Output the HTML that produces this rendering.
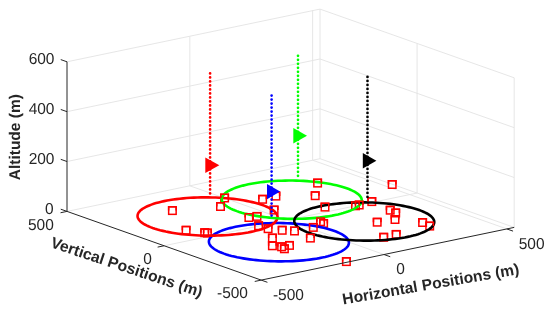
<!DOCTYPE html>
<html><head><meta charset="utf-8"><title>UAV positions 3D plot</title>
<style>html,body{margin:0;padding:0;background:#fff;width:550px;height:314px;overflow:hidden}svg{display:block}text{text-rendering:geometricPrecision}</style>
</head><body>
<svg width="550" height="314" viewBox="0 0 550 314" font-family="'Liberation Sans', Arial, sans-serif" fill="#262626">
<line x1="67" y1="161.53" x2="320" y2="108.83" stroke="#e3e3e3" stroke-width="0.9"/>
<line x1="67" y1="111.67" x2="320" y2="58.97" stroke="#e3e3e3" stroke-width="0.9"/>
<line x1="67" y1="61.8" x2="320" y2="9.1" stroke="#e3e3e3" stroke-width="0.9"/>
<line x1="189.82" y1="185.82" x2="189.82" y2="36.22" stroke="#e3e3e3" stroke-width="0.9"/>
<line x1="312.63" y1="160.23" x2="312.63" y2="10.63" stroke="#e3e3e3" stroke-width="0.9"/>
<line x1="320" y1="158.7" x2="320" y2="9.1" stroke="#e3e3e3" stroke-width="0.9"/>
<line x1="320" y1="108.83" x2="514.2" y2="177.53" stroke="#e3e3e3" stroke-width="0.9"/>
<line x1="320" y1="58.97" x2="514.2" y2="127.67" stroke="#e3e3e3" stroke-width="0.9"/>
<line x1="320" y1="9.1" x2="514.2" y2="77.8" stroke="#e3e3e3" stroke-width="0.9"/>
<line x1="514.2" y1="227.4" x2="514.2" y2="77.8" stroke="#e3e3e3" stroke-width="0.9"/>
<line x1="417.1" y1="193.05" x2="417.1" y2="43.45" stroke="#e3e3e3" stroke-width="0.9"/>
<line x1="384.02" y1="254.52" x2="189.82" y2="185.82" stroke="#e3e3e3" stroke-width="0.9"/>
<line x1="506.83" y1="228.93" x2="312.63" y2="160.23" stroke="#e3e3e3" stroke-width="0.9"/>
<line x1="164.1" y1="245.75" x2="417.1" y2="193.05" stroke="#e3e3e3" stroke-width="0.9"/>
<line x1="67" y1="211.4" x2="320" y2="158.7" stroke="#e3e3e3" stroke-width="0.9"/>
<line x1="320" y1="158.7" x2="514.2" y2="227.4" stroke="#e3e3e3" stroke-width="0.9"/>
<g fill="none" stroke="#ff0000" stroke-width="1.5">
<rect x="168.65" y="206.85" width="7.5" height="7.5"/>
<rect x="182.35" y="226.55" width="7.5" height="7.5"/>
<rect x="200.95" y="228.95" width="7.5" height="7.5"/>
<rect x="203.65" y="229.35" width="7.5" height="7.5"/>
<rect x="216.75" y="202.75" width="7.5" height="7.5"/>
<rect x="220.85" y="194.25" width="7.5" height="7.5"/>
<rect x="245.15" y="213.75" width="7.5" height="7.5"/>
<rect x="253.25" y="212.65" width="7.5" height="7.5"/>
<rect x="254.85" y="222.05" width="7.5" height="7.5"/>
<rect x="258.85" y="195.55" width="7.5" height="7.5"/>
<rect x="272.15" y="192.35" width="7.5" height="7.5"/>
<rect x="270.35" y="206.35" width="7.5" height="7.5"/>
<rect x="264.35" y="224.95" width="7.5" height="7.5"/>
<rect x="278.45" y="226.55" width="7.5" height="7.5"/>
<rect x="290.75" y="227.25" width="7.5" height="7.5"/>
<rect x="268.65" y="234.35" width="7.5" height="7.5"/>
<rect x="268.65" y="242.05" width="7.5" height="7.5"/>
<rect x="277.85" y="243.05" width="7.5" height="7.5"/>
<rect x="280.65" y="245.05" width="7.5" height="7.5"/>
<rect x="285.75" y="241.65" width="7.5" height="7.5"/>
<rect x="313.85" y="179.35" width="7.5" height="7.5"/>
<rect x="311.45" y="191.95" width="7.5" height="7.5"/>
<rect x="321.25" y="203.35" width="7.5" height="7.5"/>
<rect x="316.85" y="217.95" width="7.5" height="7.5"/>
<rect x="319.85" y="219.65" width="7.5" height="7.5"/>
<rect x="309.55" y="223.65" width="7.5" height="7.5"/>
<rect x="306.65" y="234.35" width="7.5" height="7.5"/>
<rect x="342.65" y="257.85" width="7.5" height="7.5"/>
<rect x="388.45" y="180.75" width="7.5" height="7.5"/>
<rect x="368.05" y="197.85" width="7.5" height="7.5"/>
<rect x="351.75" y="202.05" width="7.5" height="7.5"/>
<rect x="355.45" y="201.25" width="7.5" height="7.5"/>
<rect x="386.45" y="206.45" width="7.5" height="7.5"/>
<rect x="391.95" y="209.25" width="7.5" height="7.5"/>
<rect x="391.25" y="215.75" width="7.5" height="7.5"/>
<rect x="373.45" y="218.45" width="7.5" height="7.5"/>
<rect x="418.85" y="218.75" width="7.5" height="7.5"/>
<rect x="425.95" y="222.35" width="7.5" height="7.5"/>
<rect x="379.95" y="233.55" width="7.5" height="7.5"/>
<rect x="392.45" y="230.65" width="7.5" height="7.5"/>
</g>
<path d="M333.82,230.76 L331.48,229.97 L328.98,229.22 L326.35,228.5 L323.59,227.82 L320.71,227.17 L317.72,226.57 L314.61,226.01 L311.41,225.5 L308.12,225.03 L304.75,224.61 L301.31,224.24 L297.81,223.92 L294.26,223.64 L290.66,223.42 L287.03,223.25 L283.38,223.13 L279.72,223.06 L276.05,223.05 L272.4,223.09 L268.76,223.18 L265.14,223.32 L261.57,223.51 L258.04,223.76 L254.57,224.06 L251.17,224.4 L247.84,224.8 L244.6,225.24 L241.46,225.73 L238.41,226.26 L235.48,226.84 L232.66,227.46 L229.97,228.12 L227.42,228.82 L225.01,229.55 L222.74,230.32 L220.63,231.13 L218.68,231.96 L216.89,232.82 L215.28,233.71 L213.83,234.62 L212.57,235.55 L211.49,236.5 L210.59,237.46 L209.88,238.44 L209.36,239.43 L209.03,240.42 L208.89,241.42 L208.94,242.43 L209.19,243.43 L209.62,244.43 L210.25,245.42 L211.06,246.4 L212.06,247.38 L213.25,248.33 L214.61,249.27 L216.15,250.2 L217.86,251.1 L219.74,251.97 L221.78,252.82 L223.98,253.64 L226.32,254.43 L228.82,255.18 L231.45,255.9 L234.21,256.58 L237.09,257.23 L240.08,257.83 L243.19,258.39 L246.39,258.9 L249.68,259.37 L253.05,259.79 L256.49,260.16 L259.99,260.48 L263.54,260.76 L267.14,260.98 L270.77,261.15 L274.42,261.27 L278.08,261.34 L281.75,261.35 L285.4,261.31 L289.04,261.22 L292.66,261.08 L296.23,260.89 L299.76,260.64 L303.23,260.34 L306.63,260 L309.96,259.6 L313.2,259.16 L316.34,258.67 L319.39,258.14 L322.32,257.56 L325.14,256.94 L327.83,256.28 L330.38,255.58 L332.79,254.85 L335.06,254.08 L337.17,253.27 L339.12,252.44 L340.91,251.58 L342.52,250.69 L343.97,249.78 L345.23,248.85 L346.31,247.9 L347.21,246.94 L347.92,245.96 L348.44,244.97 L348.77,243.98 L348.91,242.98 L348.86,241.97 L348.61,240.97 L348.18,239.97 L347.55,238.98 L346.74,238 L345.74,237.02 L344.55,236.07 L343.19,235.13 L341.65,234.2 L339.94,233.3 L338.06,232.43 L336.02,231.58 Z" fill="none" stroke="#0000ff" stroke-width="2.6"/>
<path d="M262.47,205.06 L260.13,204.27 L257.63,203.52 L255,202.8 L252.24,202.12 L249.36,201.47 L246.37,200.87 L243.26,200.31 L240.06,199.8 L236.77,199.33 L233.4,198.91 L229.96,198.54 L226.46,198.22 L222.91,197.94 L219.31,197.72 L215.68,197.55 L212.03,197.43 L208.37,197.36 L204.7,197.35 L201.05,197.39 L197.41,197.48 L193.79,197.62 L190.22,197.81 L186.69,198.06 L183.22,198.36 L179.82,198.7 L176.49,199.1 L173.25,199.54 L170.11,200.03 L167.06,200.56 L164.13,201.14 L161.31,201.76 L158.62,202.42 L156.07,203.12 L153.66,203.85 L151.39,204.62 L149.28,205.43 L147.33,206.26 L145.54,207.12 L143.93,208.01 L142.48,208.92 L141.22,209.85 L140.14,210.8 L139.24,211.76 L138.53,212.74 L138.01,213.73 L137.68,214.72 L137.54,215.72 L137.59,216.73 L137.84,217.73 L138.27,218.73 L138.9,219.72 L139.71,220.7 L140.71,221.68 L141.9,222.63 L143.26,223.57 L144.8,224.5 L146.51,225.4 L148.39,226.27 L150.43,227.12 L152.63,227.94 L154.97,228.73 L157.47,229.48 L160.1,230.2 L162.86,230.88 L165.74,231.53 L168.73,232.13 L171.84,232.69 L175.04,233.2 L178.33,233.67 L181.7,234.09 L185.14,234.46 L188.64,234.78 L192.19,235.06 L195.79,235.28 L199.42,235.45 L203.07,235.57 L206.73,235.64 L210.4,235.65 L214.05,235.61 L217.69,235.52 L221.31,235.38 L224.88,235.19 L228.41,234.94 L231.88,234.64 L235.28,234.3 L238.61,233.9 L241.85,233.46 L244.99,232.97 L248.04,232.44 L250.97,231.86 L253.79,231.24 L256.48,230.58 L259.03,229.88 L261.44,229.15 L263.71,228.38 L265.82,227.57 L267.77,226.74 L269.56,225.88 L271.17,224.99 L272.62,224.08 L273.88,223.15 L274.96,222.2 L275.86,221.24 L276.57,220.26 L277.09,219.27 L277.42,218.28 L277.56,217.28 L277.51,216.27 L277.26,215.27 L276.83,214.27 L276.2,213.28 L275.39,212.3 L274.39,211.32 L273.2,210.37 L271.84,209.43 L270.3,208.5 L268.59,207.6 L266.71,206.73 L264.67,205.88 Z" fill="none" stroke="#ff0000" stroke-width="2.6"/>
<path d="M346.67,188.26 L344.33,187.47 L341.83,186.72 L339.2,186 L336.44,185.32 L333.56,184.67 L330.57,184.07 L327.46,183.51 L324.26,183 L320.97,182.53 L317.6,182.11 L314.16,181.74 L310.66,181.42 L307.11,181.14 L303.51,180.92 L299.88,180.75 L296.23,180.63 L292.57,180.56 L288.9,180.55 L285.25,180.59 L281.61,180.68 L277.99,180.82 L274.42,181.01 L270.89,181.26 L267.42,181.56 L264.02,181.9 L260.69,182.3 L257.45,182.74 L254.31,183.23 L251.26,183.76 L248.33,184.34 L245.51,184.96 L242.82,185.62 L240.27,186.32 L237.86,187.05 L235.59,187.82 L233.48,188.63 L231.53,189.46 L229.74,190.32 L228.13,191.21 L226.68,192.12 L225.42,193.05 L224.34,194 L223.44,194.96 L222.73,195.94 L222.21,196.93 L221.88,197.92 L221.74,198.92 L221.79,199.93 L222.04,200.93 L222.47,201.93 L223.1,202.92 L223.91,203.9 L224.91,204.88 L226.1,205.83 L227.46,206.77 L229,207.7 L230.71,208.6 L232.59,209.47 L234.63,210.32 L236.83,211.14 L239.17,211.93 L241.67,212.68 L244.3,213.4 L247.06,214.08 L249.94,214.73 L252.93,215.33 L256.04,215.89 L259.24,216.4 L262.53,216.87 L265.9,217.29 L269.34,217.66 L272.84,217.98 L276.39,218.26 L279.99,218.48 L283.62,218.65 L287.27,218.77 L290.93,218.84 L294.6,218.85 L298.25,218.81 L301.89,218.72 L305.51,218.58 L309.08,218.39 L312.61,218.14 L316.08,217.84 L319.48,217.5 L322.81,217.1 L326.05,216.66 L329.19,216.17 L332.24,215.64 L335.17,215.06 L337.99,214.44 L340.68,213.78 L343.23,213.08 L345.64,212.35 L347.91,211.58 L350.02,210.77 L351.97,209.94 L353.76,209.08 L355.37,208.19 L356.82,207.28 L358.08,206.35 L359.16,205.4 L360.06,204.44 L360.77,203.46 L361.29,202.47 L361.62,201.48 L361.76,200.48 L361.71,199.47 L361.46,198.47 L361.03,197.47 L360.4,196.48 L359.59,195.5 L358.59,194.52 L357.4,193.57 L356.04,192.63 L354.5,191.7 L352.79,190.8 L350.91,189.93 L348.87,189.08 Z" fill="none" stroke="#00ff00" stroke-width="2.6"/>
<path d="M419.17,210.06 L416.83,209.27 L414.33,208.52 L411.7,207.8 L408.94,207.12 L406.06,206.47 L403.07,205.87 L399.96,205.31 L396.76,204.8 L393.47,204.33 L390.1,203.91 L386.66,203.54 L383.16,203.22 L379.61,202.94 L376.01,202.72 L372.38,202.55 L368.73,202.43 L365.07,202.36 L361.4,202.35 L357.75,202.39 L354.11,202.48 L350.49,202.62 L346.92,202.81 L343.39,203.06 L339.92,203.36 L336.52,203.7 L333.19,204.1 L329.95,204.54 L326.81,205.03 L323.76,205.56 L320.83,206.14 L318.01,206.76 L315.32,207.42 L312.77,208.12 L310.36,208.85 L308.09,209.62 L305.98,210.43 L304.03,211.26 L302.24,212.12 L300.63,213.01 L299.18,213.92 L297.92,214.85 L296.84,215.8 L295.94,216.76 L295.23,217.74 L294.71,218.73 L294.38,219.72 L294.24,220.72 L294.29,221.73 L294.54,222.73 L294.97,223.73 L295.6,224.72 L296.41,225.7 L297.41,226.68 L298.6,227.63 L299.96,228.57 L301.5,229.5 L303.21,230.4 L305.09,231.27 L307.13,232.12 L309.33,232.94 L311.67,233.73 L314.17,234.48 L316.8,235.2 L319.56,235.88 L322.44,236.53 L325.43,237.13 L328.54,237.69 L331.74,238.2 L335.03,238.67 L338.4,239.09 L341.84,239.46 L345.34,239.78 L348.89,240.06 L352.49,240.28 L356.12,240.45 L359.77,240.57 L363.43,240.64 L367.1,240.65 L370.75,240.61 L374.39,240.52 L378.01,240.38 L381.58,240.19 L385.11,239.94 L388.58,239.64 L391.98,239.3 L395.31,238.9 L398.55,238.46 L401.69,237.97 L404.74,237.44 L407.67,236.86 L410.49,236.24 L413.18,235.58 L415.73,234.88 L418.14,234.15 L420.41,233.38 L422.52,232.57 L424.47,231.74 L426.26,230.88 L427.87,229.99 L429.32,229.08 L430.58,228.15 L431.66,227.2 L432.56,226.24 L433.27,225.26 L433.79,224.27 L434.12,223.28 L434.26,222.28 L434.21,221.27 L433.96,220.27 L433.53,219.27 L432.9,218.28 L432.09,217.3 L431.09,216.32 L429.9,215.37 L428.54,214.43 L427,213.5 L425.29,212.6 L423.41,211.73 L421.37,210.88 Z" fill="none" stroke="#000000" stroke-width="2.6"/>
<g fill="none" stroke="#ff0000" stroke-width="1.5">
<path d="M168.65 210.6V206.85H176.15V210.6"/>
<path d="M182.35 230.3V226.55H189.85V230.3"/>
<path d="M200.95 232.7V228.95H208.45V232.7"/>
<path d="M203.65 233.1V229.35H211.15V233.1"/>
<path d="M216.75 206.5V202.75H224.25V206.5"/>
<path d="M220.85 198V194.25H228.35V198"/>
<path d="M245.15 217.5V213.75H252.65V217.5"/>
<path d="M253.25 216.4V212.65H260.75V216.4"/>
<path d="M254.85 225.8V222.05H262.35V225.8"/>
<path d="M258.85 199.3V195.55H266.35V199.3"/>
<path d="M272.15 196.1V192.35H279.65V196.1"/>
<path d="M270.35 210.1V206.35H277.85V210.1"/>
<path d="M264.35 228.7V224.95H271.85V228.7"/>
<path d="M278.45 230.3V226.55H285.95V230.3"/>
<path d="M290.75 231V227.25H298.25V231"/>
<path d="M268.65 238.1V234.35H276.15V238.1"/>
<path d="M268.65 245.8V242.05H276.15V245.8"/>
<path d="M277.85 246.8V243.05H285.35V246.8"/>
<path d="M280.65 248.8V245.05H288.15V248.8"/>
<path d="M285.75 245.4V241.65H293.25V245.4"/>
<path d="M313.85 183.1V179.35H321.35V183.1"/>
<path d="M311.45 195.7V191.95H318.95V195.7"/>
<path d="M321.25 207.1V203.35H328.75V207.1"/>
<path d="M316.85 221.7V217.95H324.35V221.7"/>
<path d="M319.85 223.4V219.65H327.35V223.4"/>
<path d="M309.55 227.4V223.65H317.05V227.4"/>
<path d="M306.65 238.1V234.35H314.15V238.1"/>
<path d="M342.65 261.6V257.85H350.15V261.6"/>
<path d="M388.45 184.5V180.75H395.95V184.5"/>
<path d="M368.05 201.6V197.85H375.55V201.6"/>
<path d="M351.75 205.8V202.05H359.25V205.8"/>
<path d="M355.45 205V201.25H362.95V205"/>
<path d="M386.45 210.2V206.45H393.95V210.2"/>
<path d="M391.95 213V209.25H399.45V213"/>
<path d="M391.25 219.5V215.75H398.75V219.5"/>
<path d="M373.45 222.2V218.45H380.95V222.2"/>
<path d="M418.85 222.5V218.75H426.35V222.5"/>
<path d="M425.95 226.1V222.35H433.45V226.1"/>
<path d="M379.95 237.3V233.55H387.45V237.3"/>
<path d="M392.45 234.4V230.65H399.95V234.4"/>
</g>
<line x1="210.1" y1="73.4" x2="210.1" y2="193.7" stroke="#ff0000" stroke-width="2.7" stroke-linecap="round" stroke-dasharray="0 4"/>
<line x1="271.6" y1="95.6" x2="271.6" y2="215.9" stroke="#0000ff" stroke-width="2.7" stroke-linecap="round" stroke-dasharray="0 4"/>
<line x1="298" y1="55.8" x2="298" y2="176.1" stroke="#00ff00" stroke-width="2.7" stroke-linecap="round" stroke-dasharray="0 4"/>
<line x1="367.5" y1="76.9" x2="367.5" y2="197.2" stroke="#000000" stroke-width="2.7" stroke-linecap="round" stroke-dasharray="0 4"/>
<polygon points="205.3,157.6 205.3,173.1 219.3,165.35" fill="#ff0000"/>
<polygon points="267,183.9 267,199.2 280.1,191.55" fill="#0000ff"/>
<polygon points="293.3,128 293.3,143.4 307,135.7" fill="#00ff00"/>
<polygon points="362.8,153 362.8,168.4 376.4,160.7" fill="#000000"/>
<line x1="67" y1="211.4" x2="67" y2="61.8" stroke="#262626" stroke-width="1"/>
<line x1="67" y1="211.4" x2="261.2" y2="280.1" stroke="#262626" stroke-width="1"/>
<line x1="261.2" y1="280.1" x2="514.2" y2="227.4" stroke="#262626" stroke-width="1"/>
<line x1="67" y1="211.4" x2="60.78" y2="209.2" stroke="#262626" stroke-width="1"/>
<line x1="67" y1="161.53" x2="60.78" y2="159.33" stroke="#262626" stroke-width="1"/>
<line x1="67" y1="111.67" x2="60.78" y2="109.47" stroke="#262626" stroke-width="1"/>
<line x1="67" y1="61.8" x2="60.78" y2="59.6" stroke="#262626" stroke-width="1"/>
<line x1="67" y1="211.4" x2="60.54" y2="212.75" stroke="#262626" stroke-width="1"/>
<line x1="164.1" y1="245.75" x2="157.64" y2="247.1" stroke="#262626" stroke-width="1"/>
<line x1="261.2" y1="280.1" x2="254.74" y2="281.45" stroke="#262626" stroke-width="1"/>
<line x1="261.2" y1="280.1" x2="267.42" y2="282.3" stroke="#262626" stroke-width="1"/>
<line x1="384.02" y1="254.52" x2="390.24" y2="256.72" stroke="#262626" stroke-width="1"/>
<line x1="506.83" y1="228.93" x2="513.05" y2="231.14" stroke="#262626" stroke-width="1"/>
<text transform="translate(53.7,213.7) scale(1,1.02)" text-anchor="end" font-size="15.5">0</text>
<text transform="translate(54.5,163.53) scale(1,1.02)" text-anchor="end" font-size="15.5">200</text>
<text transform="translate(54.5,113.67) scale(1,1.02)" text-anchor="end" font-size="15.5">400</text>
<text transform="translate(54.5,63.8) scale(1,1.02)" text-anchor="end" font-size="15.5">600</text>
<text transform="translate(53.8,229.6) scale(1,1.02)" text-anchor="end" font-size="15.5">500</text>
<text transform="translate(151.9,264) scale(1,1.02)" text-anchor="end" font-size="15.5">0</text>
<text transform="translate(248,298.42) scale(1,1.02)" text-anchor="end" font-size="15.5">-500</text>
<text transform="translate(272.95,299.53) scale(1,1.02)" text-anchor="start" font-size="15.5">-500</text>
<text transform="translate(396.2,274.23) scale(1,1.02)" text-anchor="start" font-size="15.5">0</text>
<text transform="translate(518.7,248.52) scale(1,1.02)" text-anchor="start" font-size="15.5">500</text>
<text transform="translate(19.5,137.2) rotate(-90)" text-anchor="middle" font-size="15.5" font-weight="bold">Altitude (m)</text>
<text transform="translate(125.1,272.2) rotate(18.4)" text-anchor="middle" font-size="15.65" font-weight="bold">Vertical Positions (m)</text>
<text transform="translate(431.6,289.2) rotate(-9.8)" text-anchor="middle" font-size="15.58" font-weight="bold">Horizontal Positions (m)</text>
</svg>
</body></html>
